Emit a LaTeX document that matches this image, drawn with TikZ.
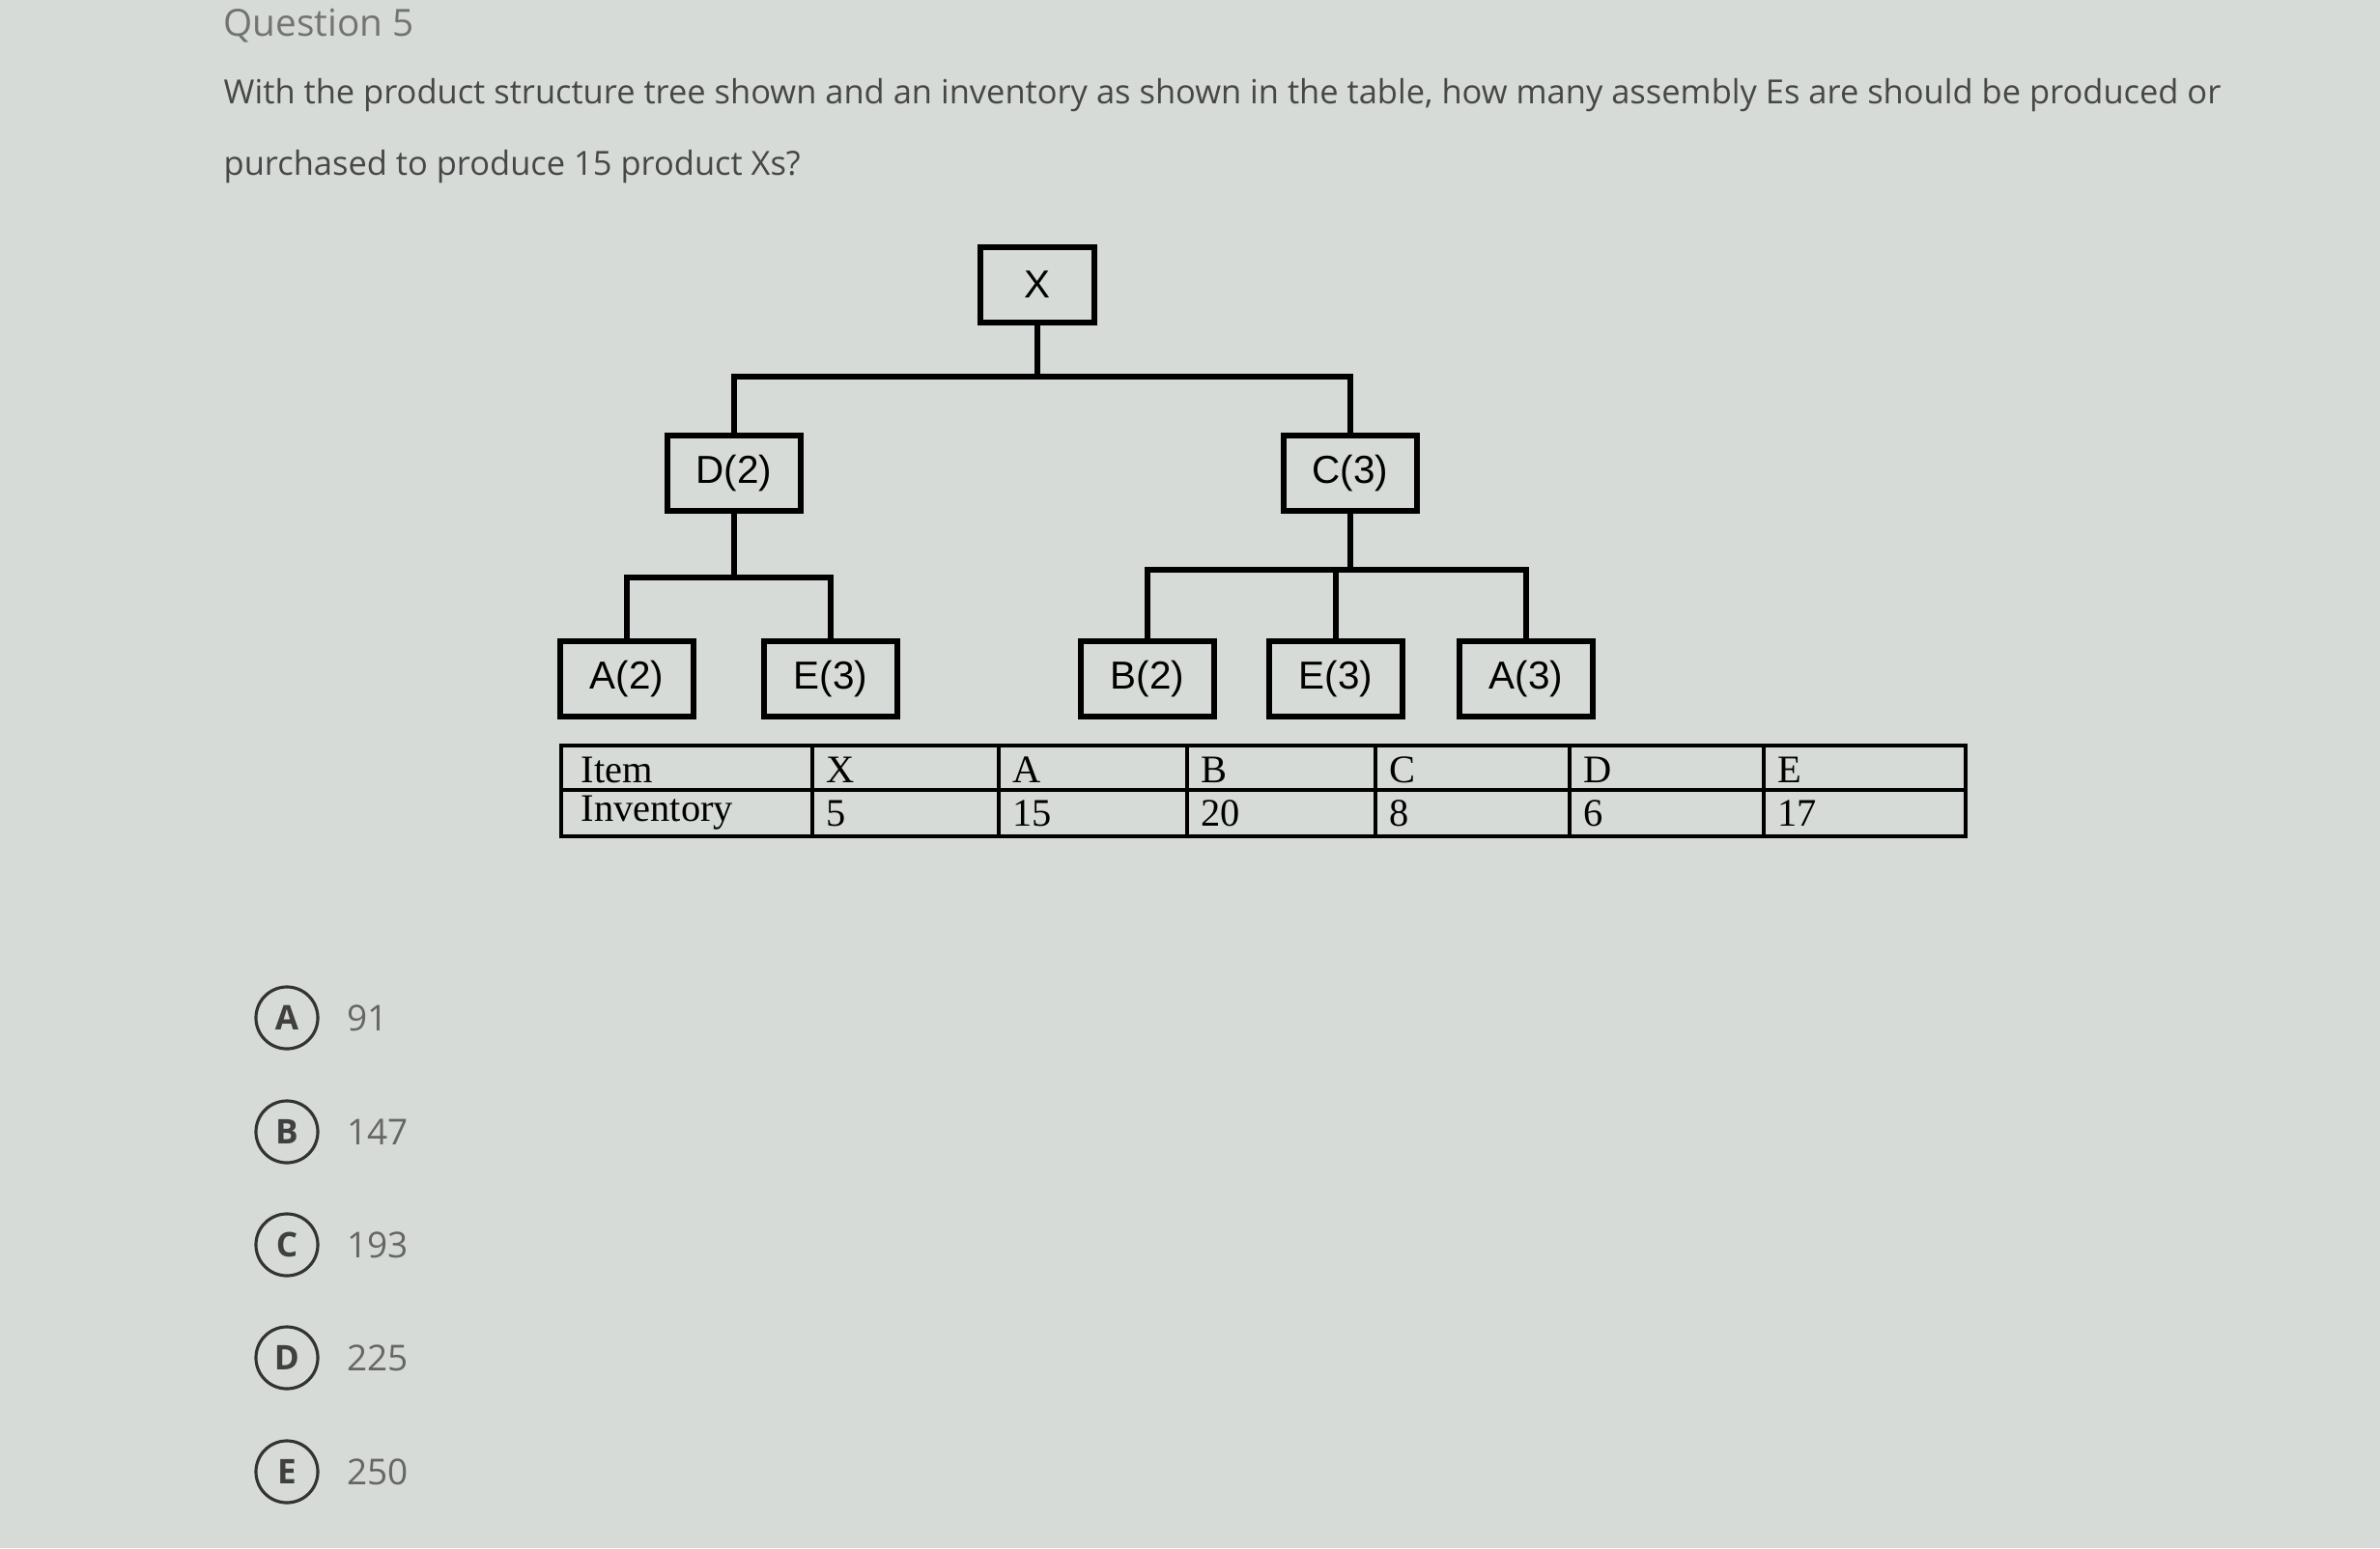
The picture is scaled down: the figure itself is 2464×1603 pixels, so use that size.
\documentclass[tikz,border=0pt]{standalone}
\usepackage{fontspec}
\setmainfont{Open Sans}
\newfontfamily\treefont{Liberation Sans}
\newfontfamily\tabfont{Liberation Serif}
\usetikzlibrary{positioning}
\definecolor{screen}{RGB}{214,219,215}
\tikzset{
  part/.style={draw,line width=1.7pt,minimum width=1.37cm,minimum height=0.78cm,inner sep=0pt,font=\treefont\fontsize{11.5}{13}\selectfont},
  link/.style={line width=1.7pt},
  cell/.style={anchor=west,inner sep=0pt,font=\tabfont\fontsize{11.5}{13}\selectfont},
  choice/.style={draw=black!80,circle,line width=0.9pt,minimum size=0.64cm,inner sep=0pt,text=black!75,font=\bfseries\fontsize{10}{11}\selectfont},
  question/.style={anchor=base west,inner sep=0pt,text=black!72,font=\fontsize{9.8}{12}\selectfont}
}
\begin{document}
\begin{tikzpicture}[x=0.01cm,y=-0.01cm]
\fill[screen](0,0)rectangle(2464,1603);
\useasboundingbox(0,0)rectangle(2464,1603);
\node[question,text=black!55,font=\fontsize{11}{13}\selectfont](title)at(231,38){Question 5};
\node[question](q1)at(231,108){With the product structure tree shown and an inventory as shown in the table, how many assembly Es are should be produced or};
\node[question](q2)at(231,182){purchased to produce 15 product Xs?};
% tree
\pgfmathsetmacro{\ta}{295}
\pgfmathsetmacro{\tb}{490}
\pgfmathsetmacro{\tc}{703}
\node[part,minimum width=1.18cm](x)at(1074,\ta){X};
\node[part](d)at(760,\tb){D(2)};
\node[part](c)at(1398,\tb){C(3)};
\node[part](da)at(649,\tc){A(2)};
\node[part](de)at(860,\tc){E(3)};
\node[part](cb)at(1188,\tc){B(2)};
\node[part](ce)at(1383,\tc){E(3)};
\node[part](ca)at(1580,\tc){A(3)};
\coordinate(kx)at(1074,390);
\coordinate(kd)at(760,598);
\coordinate(kc)at(1398,590);
\draw[link](x.south)--(kx);
\draw[link](d.north)|-(kx)-|(c.north);
\draw[link](d.south)--(kd);
\draw[link](da.north)|-(kd)-|(de.north);
\draw[link](c.south)--(kc);
\draw[link](cb.north)|-(kc)-|(ca.north);
\draw[link](ce.north)--(ce.north|-kc);
% table
\draw[line width=1.1pt](581,772)rectangle(2035,866);
\draw[line width=1.1pt](581,818)--(2035,818);
\node[cell](item)at(601,797){Item};
\node[cell](stock)at(601,842){Inventory};
\foreach \x/\itm/\num [count=\i] in {841/X/5,1034/A/15,1229/B/20,1424/C/8,1625/D/6,1826/E/17}{
  \draw[line width=1.1pt](\x,772)--(\x,866);
  \node[cell](itm\i)at(\x+14,797){\itm};
  \node[cell](num\i)at(\x+14,842){\num};
}
% answers
\foreach \l/\v/\y in {A/91/1054,B/147/1172,C/193/1289,D/225/1406,E/250/1524}{
  \node[choice](opt\l)at(297,\y){\l};
  \node[right=0.28cm of opt\l,inner sep=0pt,text=black!60,font=\fontsize{10.5}{12}\selectfont](val\l){\v};
}
\end{tikzpicture}
\end{document}
